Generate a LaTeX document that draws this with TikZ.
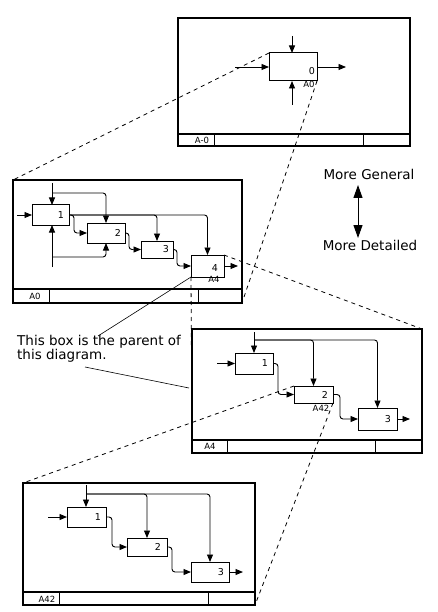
\documentclass[tikz,border=0pt]{standalone}
\usepackage{fontspec}
\setmainfont{DejaVu Sans}
\usetikzlibrary{arrows.meta}
\tikzset{
  frame/.style={draw, line width=1.2pt, inner sep=0, outer sep=0},
  fbox/.style={draw, line width=1pt, inner sep=0, outer sep=0},
  num/.style={font=\fontsize{9.5}{10}\selectfont, inner sep=0, anchor=east},
  tag/.style={font=\fontsize{8.5}{9}\selectfont, inner sep=0},
  arr/.style={line width=0.9pt, -{Triangle[length=7.5pt,width=6pt]}},
  rc/.style={rounded corners=3pt},
  dsh/.style={line width=0.8pt, dash pattern=on 4pt off 4pt},
  bar/.style={line width=1.2pt},
  big/.style={font=\fontsize{13.5}{9.5}\selectfont, inner sep=0},
}
\begin{document}
\begin{tikzpicture}[x=1pt,y=-1pt]
\useasboundingbox (0,0) rectangle (437,612);
% ---------- Frame A-0 ----------
\node[frame, minimum width=232pt, minimum height=128pt] (F1) at (294,82) {};
\draw[bar] (178,134) -- (410,134);
\draw (214,134) -- (214,146);
\draw (363,134) -- (363,146);
\node[tag] (F1t) at (202,140) {A-0};
\node[fbox, minimum width=48pt, minimum height=28pt] (b0) at (293,67) {};
\node[num] (b0n) at ([xshift=-2pt,yshift=-4pt]b0.east) {0};
\node[tag] (b0t) at (309,84) {A0};
\coordinate (i0) at (235,67);
\draw[arr] (i0) -- (b0.west);
\coordinate (c0) at (292,36);
\draw[arr] (c0) -- (c0 |- b0.north);
\coordinate (m0) at (292,105);
\draw[arr] (m0) -- (m0 |- b0.south);
\coordinate (o0) at (346,67);
\draw[arr] (b0.east) -- (o0);
% ---------- Frame A0 ----------
\node[frame, minimum width=229pt, minimum height=123pt] (F2) at (127.5,241.5) {};
\draw[line width=1.8pt] (13,289) -- (242,289);
\draw (49,289) -- (49,303);
\draw (198,289) -- (198,303);
\node[tag] (F2t) at (35,296) {A0};
\node[fbox, minimum width=37pt, minimum height=20pt] (a1) at (50.5,215) {};
\node[fbox, minimum width=38pt, minimum height=20pt] (a2) at (106,233) {};
\node[fbox, minimum width=32pt, minimum height=17pt] (a3) at (157,249.5) {};
\node[fbox, minimum width=33pt, minimum height=22pt] (a4) at (207.5,266) {};
\node[num] (a1n) at ([xshift=-5pt]a1.east) {1};
\node[num] (a2n) at ([xshift=-4pt]a2.east) {2};
\node[num] (a3n) at ([xshift=-4pt]a3.east) {3};
\node[num] (a4n) at ([xshift=-6pt,yshift=-2pt]a4.east) {4};
\node[tag] (a4t) at (214,279) {A4};
\coordinate (ai) at (17,215);
\draw[arr] (ai) -- (a1.west);
\coordinate (ac) at (52,183);
\draw[arr] (ac) -- (ac |- a1.north);
\coordinate (acj) at (52,193);
\draw[arr, rc] (acj) -| (a2.north);
\coordinate (am) at (52,267);
\draw[arr] (am) -- (am |- a1.south);
\coordinate (amj) at (52,257);
\draw[arr, rc] (amj) -| (a2.south);
\draw[arr, rc] (a1.east) -| (a3.north);
\draw[arr, rc] (a1.east) -| (a4.north);
\draw[arr, rc] (a1.east) -- ++(5,0) |- (a2.west);
\draw[arr, rc] (a2.east) -- ++(4,0) |- (a3.west);
\draw[arr, rc] (a3.east) -- ++(4,0) |- (a4.west);
\coordinate (ao) at (238,266);
\draw[arr] (a4.east) -- (ao);
% ---------- Frame A4 ----------
\node[frame, minimum width=230pt, minimum height=124pt] (F3) at (307,391) {};
\draw[bar] (192,440) -- (422,440);
\draw (227,440) -- (227,453);
\draw (375,440) -- (375,453);
\node[tag] (F3t) at (210,446) {A4};
\node[fbox, minimum width=38pt, minimum height=21pt] (d1) at (254,363.5) {};
\node[fbox, minimum width=39pt, minimum height=17pt] (d2) at (313.5,394.5) {};
\node[fbox, minimum width=39pt, minimum height=22pt] (d3) at (377.5,419) {};
\node[num] (d1n) at ([xshift=-5pt]d1.east) {1};
\node[num] (d2n) at ([xshift=-5pt]d2.east) {2};
\node[num] (d3n) at ([xshift=-6pt]d3.east) {3};
\node[tag] (d2t) at (321,408) {A42};
\coordinate (di) at (217,363.5);
\draw[arr] (di) -- (d1.west);
\coordinate (dc) at (254,332);
\draw[arr] (dc) -- (dc |- d1.north);
\coordinate (dcj) at (254,340);
\draw[arr, rc] (dcj) -| (d2.north);
\draw[arr, rc] (dcj) -| (d3.north);
\draw[arr, rc] (d1.east) -- ++(5,0) |- (d2.west);
\draw[arr, rc] (d2.east) -- ++(7,0) |- (d3.west);
\coordinate (do) at (410,419);
\draw[arr] (d3.east) -- (do);
% ---------- Frame A42 ----------
\node[frame, minimum width=232pt, minimum height=122pt] (F4) at (139,544) {};
\draw[bar] (23,592) -- (255,592);
\draw (59,592) -- (59,605);
\draw (208,592) -- (208,605);
\node[tag] (F4t) at (47,599) {A42};
\node[fbox, minimum width=39pt, minimum height=20pt] (e1) at (86.5,517) {};
\node[fbox, minimum width=40pt, minimum height=18pt] (e2) at (147,547) {};
\node[fbox, minimum width=38pt, minimum height=20pt] (e3) at (210,572) {};
\node[num] (e1n) at ([xshift=-5pt]e1.east) {1};
\node[num] (e2n) at ([xshift=-6pt]e2.east) {2};
\node[num] (e3n) at ([xshift=-5pt]e3.east) {3};
\coordinate (ei) at (48,517);
\draw[arr] (ei) -- (e1.west);
\coordinate (ec) at (86,485);
\draw[arr] (ec) -- (ec |- e1.north);
\coordinate (ecj) at (86,494);
\draw[arr, rc] (ecj) -| (e2.north);
\draw[arr, rc] (ecj) -| (e3.north);
\draw[arr, rc] (e1.east) -- ++(6,0) |- (e2.west);
\draw[arr, rc] (e2.east) -- ++(5,0) |- (e3.west);
\coordinate (eo) at (243,572);
\draw[arr] (e3.east) -- (eo);
% ---------- Dashed zoom lines ----------
\draw[dsh] (b0.north west) -- (F2.north west);
\draw[dsh] (b0.south east) -- (F2.south east);
\draw[dsh] (a4.north east) -- (F3.north east);
\draw[dsh] (a4.south west) -- (F3.south west);
\draw[dsh] (d2.north west) -- (F4.north west);
\draw[dsh] (d2.south east) -- (F4.south east);
% ---------- Legend ----------
\node[big] (gen) at (369,174) {More General};
\node[big] (det) at (370,245) {More Detailed};
\coordinate (lgt) at (358,185);
\coordinate (lgb) at (358,238);
\draw[line width=1pt, {Triangle[length=13pt,width=9pt]}-{Triangle[length=13pt,width=9pt]}] (lgt) -- (lgb);
% ---------- Annotation ----------
\node[big, anchor=north west, align=left] (ann) at (17,335) {This box is the parent of\\this diagram.};
\coordinate (annp) at (98,336);
\draw[line width=0.6pt] (annp) -- (a4.south west);
\coordinate (anns) at (85,367);
\coordinate (annt) at (189,388);
\draw[line width=0.6pt] (anns) -- (annt);
\end{tikzpicture}
\end{document}
